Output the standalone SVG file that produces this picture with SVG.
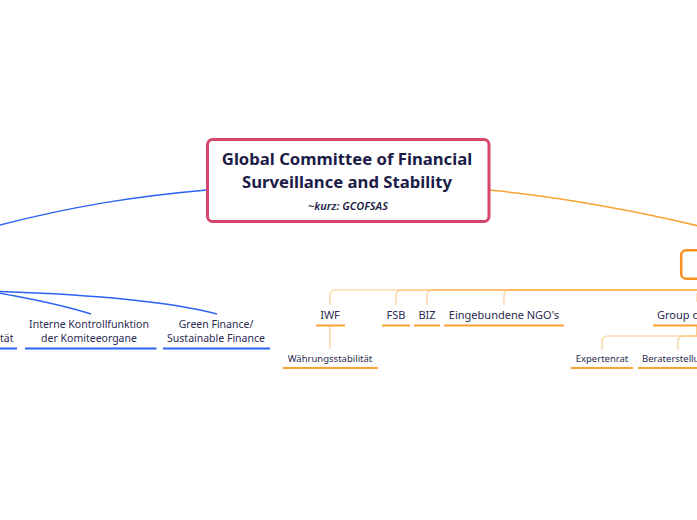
<svg xmlns="http://www.w3.org/2000/svg" width="697" height="520" viewBox="0 0 697 520">
<style>
text{font-family:"Noto Sans","Open Sans","DejaVu Sans",sans-serif;fill:#2a2a52}
.title{font-size:16.7px;font-weight:700;fill:#1c1c48}
.sub{font-size:11px;font-weight:600;font-style:italic;fill:#1c1c48}
.lbl{font-size:10.5px}
.lbl2{font-size:11px}
.sm{font-size:9.5px}
.blue{fill:none;stroke:#2d63f5;stroke-width:1.4}
.bu{stroke:#2d63f5;stroke-width:2;fill:none}
.org{fill:none;stroke:#f9a230;stroke-width:1.6}
.br{fill:none;stroke:#f9a230;stroke-width:1.6;stroke-opacity:0.4}
.ou{stroke:#f9a230;stroke-width:2;fill:none}
</style>
<rect width="697" height="520" fill="#ffffff"/>
<g id="connectors">
<path class="blue" d="M207,190 C150,195 70,204 -40,236"/>
<path class="org" d="M489,190 C550,196 640,210 730,234"/>
<path class="blue" d="M-60,290 C60,292 160,299 217,314"/>
<path class="blue" d="M-60,284 C-20,289 50,301 91,314"/>
<path class="br" d="M720,279 V290 H336 Q330,290 330,296 V305"/>
<path class="br" d="M720,279 V290 H402 Q396,290 396,296 V305"/>
<path class="br" d="M720,279 V290 H433 Q427,290 427,296 V305"/>
<path class="br" d="M720,279 V290 H510 Q504,290 504,296 V305"/>
<path class="br" d="M720,279 V290 H702 Q697,290 697,296 V302"/>
<path class="br" d="M330,326 V349"/>
<path class="br" d="M697,326 V336 H608 Q602,336 602,342 V350"/>
<path class="br" d="M697,326 V336 H684 Q678,336 678,342 V350"/>
</g>
<g id="central">
<rect x="207.5" y="139.5" width="281.5" height="82" rx="5" fill="#fff" stroke="#d6456b" stroke-width="3"/>
<text class="title" x="347" y="165" text-anchor="middle">Global Committee of Financial</text>
<text class="title" x="347" y="188" text-anchor="middle">Surveillance and Stability</text>
<text class="sub" x="348" y="210" text-anchor="middle">~kurz: GCOFSAS</text>
</g>
<g id="left-partial">
<text class="lbl" x="0" y="341.5">tät</text>
<path class="bu" d="M0,348.5 H17"/>
</g>
<g id="interne">
<text class="lbl" x="89" y="327.5" text-anchor="middle">Interne Kontrollfunktion</text>
<text class="lbl" x="89" y="341.5" text-anchor="middle">der Komiteeorgane</text>
<path class="bu" d="M25,348.5 H156.5"/>
</g>
<g id="green">
<text class="lbl" x="216" y="327.5" text-anchor="middle">Green Finance/</text>
<text class="lbl" x="216" y="341.5" text-anchor="middle">Sustainable Finance</text>
<path class="bu" d="M163,348.5 H270"/>
</g>
<g id="right-node">
<rect x="681.2" y="250.2" width="40" height="28.5" rx="5" fill="#fff" stroke="#f98f1e" stroke-width="2.5"/>
</g>
<g id="iwf">
<text class="lbl2" x="330" y="319" text-anchor="middle">IWF</text>
<path class="ou" d="M316,325.5 H345"/>
</g>
<g id="waehrung">
<text class="sm" x="330" y="361.5" text-anchor="middle">Währungsstabilität</text>
<path class="ou" d="M283,368 H378"/>
</g>
<g id="fsb">
<text class="lbl2" x="396" y="319" text-anchor="middle">FSB</text>
<path class="ou" d="M382,325.5 H410"/>
</g>
<g id="biz">
<text class="lbl2" x="427" y="319" text-anchor="middle">BIZ</text>
<path class="ou" d="M414,325.5 H440"/>
</g>
<g id="ngo">
<text class="lbl2" x="504" y="319" text-anchor="middle">Eingebundene NGO's</text>
<path class="ou" d="M444,325.5 H564"/>
</g>
<g id="group">
<text class="lbl2" x="657" y="319">Group o</text>
<path class="ou" d="M653,325.5 H697"/>
</g>
<g id="expertenrat">
<text class="sm" x="602" y="361.5" text-anchor="middle">Expertenrat</text>
<path class="ou" d="M571,368 H633"/>
</g>
<g id="berater">
<text class="sm" x="642" y="361.5">Beraterstellu</text>
<path class="ou" d="M638,368 H697"/>
</g>
</svg>
